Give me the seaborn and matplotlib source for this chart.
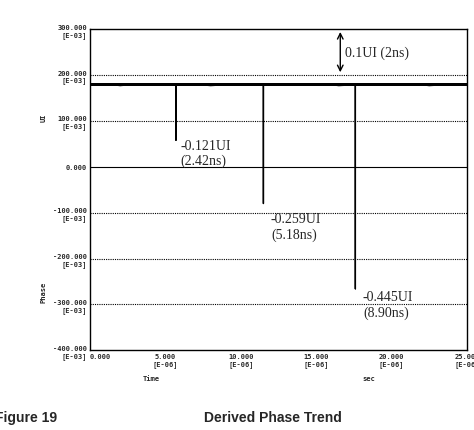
import numpy as np
import pandas as pd
import seaborn as sns
import matplotlib
matplotlib.use("Agg")
import matplotlib.pyplot as plt

sns.set_style("white")
plt.rcParams['font.family'] = ['DejaVu Sans']

# trace: sampled phase values (E-03 UI) vs time (us)
time_us = [0.0, 1.0, 2.0, 3.0, 4.0, 5.0, 5.7, 5.7, 5.7, 7.0, 8.0, 9.0, 10.0, 11.0, 11.5, 11.5, 11.5,
           12.5, 13.5, 14.5, 15.5, 16.5, 17.6, 17.6, 17.6, 18.5, 19.5, 20.5, 21.5, 22.5, 23.5, 25.0]
phase_me3 = [178, 181, 177, 180, 179, 178, 179, 58, 179, 180, 177, 179, 181, 178, 179, -80, 179,
             180, 178, 179, 181, 177, 179, -266, 179, 180, 178, 179, 181, 177, 179, 178]
yticks = [300, 200, 100, 0, -100, -200, -300, -400]
ytick_labels = ["300.000\n[E-03]", "200.000\n[E-03]", "100.000\n[E-03]", "0.000",
                "-100.000\n[E-03]", "-200.000\n[E-03]", "-300.000\n[E-03]", "-400.000\n[E-03]"]
xticks = [0, 5, 10, 15, 20, 25]
xtick_labels = ["0.000", "5.000\n[E-06]", "10.000\n[E-06]", "15.000\n[E-06]", "20.000\n[E-06]", "25.000\n[E-06]"]
ann_x = [6.0, 12.0, 18.1]
ann_y = [30, -130, -300]
ann_text = ["-0.121UI\n(2.42ns)", "-0.259UI\n(5.18ns)", "-0.445UI\n(8.90ns)"]

fig = plt.figure(figsize=(4.74, 4.31), dpi=100)
ax = fig.add_axes([0.19, 0.185, 0.795, 0.745])
df = pd.DataFrame({"t": time_us, "p": phase_me3})
sns.lineplot(data=df, x="t", y="p", ax=ax, color="black", lw=1.0, estimator=None, sort=False)
ax.fill_between([0, 25], 176, 182, color="black", lw=0)

for y in yticks[1:-1]:
    ax.axhline(y, color="black", lw=0.8, ls="-" if y == 0 else (0, (1, 1)))
ax.set_xlim(0, 25)
ax.set_ylim(-400, 300)
ax.set_yticks(yticks)
ax.set_yticklabels(ytick_labels, fontsize=5, family="DejaVu Sans Mono", fontweight="bold")
ax.set_xticks(xticks)
ax.set_xticklabels(xtick_labels, fontsize=5, family="DejaVu Sans Mono", fontweight="bold")
ax.get_xticklabels()[0].set_ha("left")
ax.set_xlabel("")
ax.set_ylabel("")
ax.tick_params(direction="in", length=3, pad=2)
for s in ax.spines.values():
    s.set_linewidth(1.0)
    s.set_color("black")

ax.annotate("", xy=(16.6, 300), xytext=(16.6, 200),
            arrowprops=dict(arrowstyle="<->", color="black", lw=1))
ax.text(16.9, 250, "0.1UI (2ns)", fontsize=10, family="Liberation Serif", va="center")
for x, y, t in zip(ann_x, ann_y, ann_text):
    ax.text(x, y, t, fontsize=10, family="Liberation Serif", va="center", ha="left")

fig.text(0.085, 0.72, "UI", fontsize=5, rotation=90, family="DejaVu Sans Mono", fontweight="bold")
fig.text(0.085, 0.30, "Phase", fontsize=5, rotation=90, family="DejaVu Sans Mono", fontweight="bold")
fig.text(0.30, 0.115, "Time", fontsize=5, family="DejaVu Sans Mono", fontweight="bold")
fig.text(0.765, 0.115, "sec", fontsize=5, family="DejaVu Sans Mono", fontweight="bold")
fig.text(-0.01, 0.02, "Figure 19", fontsize=10, fontweight="bold", family="Liberation Sans")
fig.text(0.43, 0.02, "Derived Phase Trend", fontsize=10, fontweight="bold", family="Liberation Sans")
fig.savefig("out.png", dpi=100)
